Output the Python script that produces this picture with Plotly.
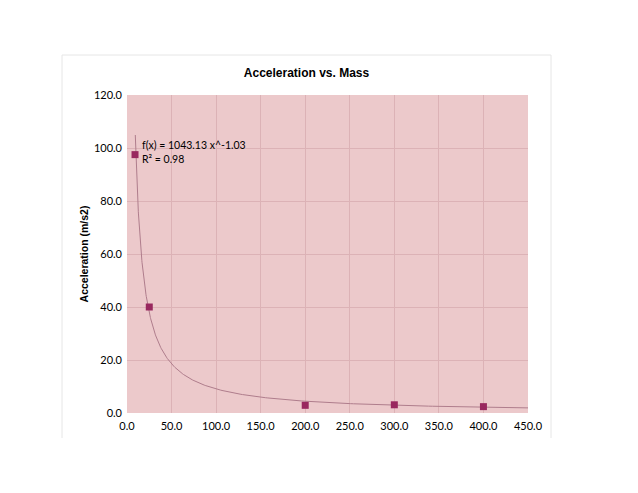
import numpy as np
import plotly.graph_objects as go

# Data
mass = [9, 25, 200, 300, 400]
accel = [97.5, 40.0, 2.9, 3.1, 2.4]

# Trendline (power fit as displayed)
coef_a = 1043.13
coef_b = -1.03
trend_start = 9.3
trend_end = 450

x_ticks = [0, 50, 100, 150, 200, 250, 300, 350, 400, 450]
y_ticks = [0, 20, 40, 60, 80, 100, 120]

tx = np.geomspace(trend_start, trend_end, 300)
ty = coef_a * tx ** coef_b

W, H = 638, 493
L, R, T, B = 119, 118, 87, 88
PW, PH = W - L - R, H - T - B
fx0, fx1, fy0, fy1 = 54, 543, 47, 430

fig = go.Figure()
fig.add_trace(go.Scatter(x=tx, y=ty, mode="lines",
                         line=dict(color="rgb(175,125,140)", width=1),
                         hoverinfo="skip", showlegend=False))
fig.add_trace(go.Scatter(x=mass, y=accel, mode="markers",
                         marker=dict(symbol="square", size=7, color="rgb(153,40,95)"),
                         showlegend=False))

font_family = "Lato, 'Open Sans', sans-serif"
bold_family = "'Liberation Sans', Arial, sans-serif"

fig.update_layout(
    width=W, height=H,
    margin=dict(l=L, r=R, t=T, b=B),
    paper_bgcolor="white",
    plot_bgcolor="rgb(236,201,203)",
    font=dict(family=font_family, size=11, color="black"),
    title=dict(text="<b>Acceleration vs. Mass</b>", x=(fx0 + fx1) / 2 / W, xanchor="center",
               xref="container", y=1 - 65 / H, yanchor="middle",
               font=dict(size=12, family=bold_family)),
    xaxis=dict(range=[0, 450], tickvals=x_ticks,
               ticktext=[f"{v:.1f}" for v in x_ticks],
               showgrid=True, gridcolor="rgb(220,178,182)", gridwidth=1,
               zeroline=False, showline=False, ticks="",
               ticklabelstandoff=5,
               tickfont=dict(size=11)),
    yaxis=dict(range=[0, 120], tickvals=y_ticks,
               ticktext=[f"{v:.1f}" for v in y_ticks],
               showgrid=True, gridcolor="rgb(220,178,182)", gridwidth=1,
               zeroline=False, showline=False, ticks="",
               ticklabelstandoff=4,
               tickfont=dict(size=11),
               title=dict(text="<b>Acceleration (m/s2)</b>", standoff=3,
                          font=dict(size=10.5, family=bold_family))),
)

fig.add_annotation(x=15, y=104, xref="x", yref="y",
                   text=f"f(x) = {coef_a} x^{coef_b}<br>R² = 0.98",
                   showarrow=False, xanchor="left", yanchor="top", align="left",
                   font=dict(size=10.5))

# outer chart frame (left, top, right) in pixel coords of the figure
frame_color = "rgb(230,230,230)"


def px_x(v):
    return (v - L) / PW


def px_y(v):
    return (H - B - v) / PH


for x0, y0, x1, y1 in [(fx0, fy1, fx0, fy0), (fx0, fy0, fx1, fy0), (fx1, fy0, fx1, fy1)]:
    fig.add_shape(type="line", xref="paper", yref="paper",
                  x0=px_x(x0), x1=px_x(x1), y0=px_y(y0), y1=px_y(y1),
                  line=dict(color=frame_color, width=1))

fig.write_html("out.html")
